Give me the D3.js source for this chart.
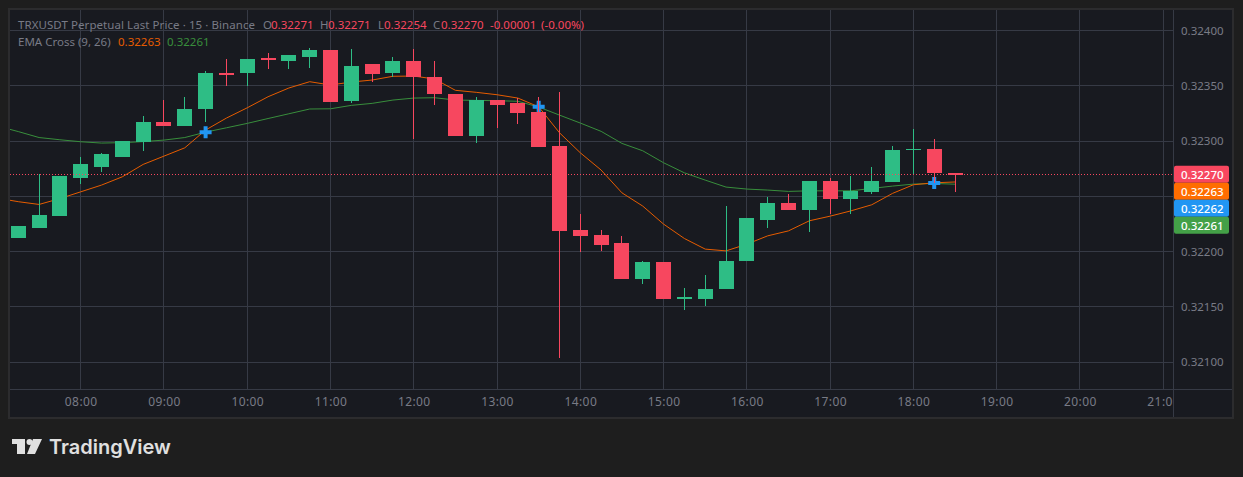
<!DOCTYPE html>
<html>
<head>
<meta charset="utf-8">
<title>TRXUSDT</title>
<script src="https://cdn.jsdelivr.net/npm/d3@7"></script>
<style>
html, body { margin: 0; padding: 0; background: #1e1e1e; overflow: hidden; }
svg { display: block; }
text { font-family: "Noto Sans", sans-serif; }
</style>
</head>
<body>
<svg id="chart" width="1243" height="477"></svg>
<script>
// 15 minute candles, first one is 07:15
const opens = [0.32212,0.32221,0.32232,0.32267,0.32277,0.32286,0.32299,0.32317,0.32314,0.32329,0.32362,0.32362,0.32375,0.32372,0.32376,0.32382,0.32336,0.32370,0.32362,0.32372,0.32358,0.32343,0.32305,0.32337,0.32334,0.32326,0.32296,0.32220,0.32215,0.32208,0.32175,0.32191,0.32157,0.32157,0.32166,0.32192,0.32229,0.32244,0.32238,0.32264,0.32248,0.32254,0.32263,0.32292,0.32293,0.32271];
const highs = [0.32223,0.32270,0.32268,0.32286,0.32289,0.32300,0.32323,0.32337,0.32340,0.32363,0.32374,0.32374,0.32380,0.32378,0.32384,0.32382,0.32383,0.32370,0.32376,0.32383,0.32372,0.32343,0.32340,0.32337,0.32339,0.32340,0.32344,0.32234,0.32220,0.32214,0.32192,0.32191,0.32167,0.32179,0.32241,0.32230,0.32249,0.32252,0.32264,0.32267,0.32268,0.32277,0.32296,0.32311,0.32302,0.32271];
const lows = [0.32212,0.32221,0.32232,0.32261,0.32272,0.32286,0.32291,0.32314,0.32314,0.32317,0.32350,0.32350,0.32365,0.32365,0.32366,0.32335,0.32334,0.32353,0.32358,0.32302,0.32333,0.32305,0.32298,0.32312,0.32315,0.32295,0.32104,0.32200,0.32201,0.32175,0.32171,0.32157,0.32147,0.32151,0.32166,0.32192,0.32221,0.32238,0.32218,0.32234,0.32234,0.32252,0.32263,0.32270,0.32262,0.32254];
const closes = [0.32223,0.32233,0.32268,0.32279,0.32288,0.32300,0.32317,0.32314,0.32329,0.32362,0.32361,0.32374,0.32373,0.32378,0.32382,0.32335,0.32368,0.32361,0.32372,0.32358,0.32343,0.32305,0.32337,0.32333,0.32325,0.32295,0.32219,0.32214,0.32206,0.32175,0.32191,0.32157,0.32159,0.32166,0.32192,0.32230,0.32244,0.32238,0.32264,0.32248,0.32255,0.32264,0.32292,0.32293,0.32271,0.32270];

// EMA lines, first point is 07:00 (off the left edge)
const emaFast = [0.322484,0.322452,0.322427,0.322480,0.322541,0.322602,0.322677,0.322789,0.322864,0.322939,0.323100,0.323208,0.323301,0.323401,0.323480,0.323537,0.323507,0.323534,0.323552,0.323586,0.323588,0.323561,0.323459,0.323441,0.323419,0.323389,0.323310,0.323075,0.322894,0.322738,0.322532,0.322412,0.322249,0.322119,0.322023,0.322007,0.322068,0.322143,0.322188,0.322279,0.322321,0.322369,0.322424,0.322527,0.322605,0.322623,0.322630];
const emaSlow = [0.323136,0.323086,0.323032,0.323012,0.322994,0.322982,0.322986,0.322995,0.323009,0.323032,0.323081,0.323120,0.323160,0.323204,0.323247,0.323290,0.323292,0.323323,0.323341,0.323371,0.323389,0.323392,0.323371,0.323368,0.323365,0.323360,0.323308,0.323235,0.323163,0.323088,0.322979,0.322912,0.322804,0.322713,0.322647,0.322584,0.322566,0.322557,0.322545,0.322550,0.322550,0.322550,0.322572,0.322593,0.322611,0.322617,0.322610];

// blue cross markers
const crossTimes = ["09:30", "13:30", "18:15"];
const crossPrices = [0.32308, 0.32331, 0.32262];

const gridPrices = [0.32400, 0.32350, 0.32300, 0.32250, 0.32200, 0.32150, 0.32100];
// 0.32250 sits under the price labels
const priceTicks = [0.32400, 0.32350, 0.32300, 0.32200, 0.32150, 0.32100];
const hourTicks = [8, 9, 10, 11, 12, 13, 14, 15, 16, 17, 18, 19, 20, 21];

const lastPrice = 0.32270;
const labelPrices = ["0.32270", "0.32263", "0.32262", "0.32261"];
const labelColors = ["#f7475f", "#ff6d00", "#2196f3", "#43a047"];

const RED = "#f7475f";
const GREEN = "#2ebd85";
const GRID = "#363a45";
const TEXT = "#787b86";
const BG = "#181a20";
const FONT_SIZE = 11.5;

const plot = { left: 10, right: 1173, top: 10, bottom: 389 };
const pane = { left: 10, right: 1232, top: 10, bottom: 417 };

function at(h, m) {
    return new Date(Date.UTC(2023, 0, 2, h, m || 0));
}

const x = d3.scaleUtc().domain([at(8), at(21)]).range([80.7, 1163.2]);
const y = d3.scaleLinear().domain([0.3241854, 0.3207580]).range([plot.top, plot.bottom]);

const candles = opens.map((o, i) => ({
    time: d3.utcMinute.offset(at(7, 15), i * 15),
    open: o, high: highs[i], low: lows[i], close: closes[i]
}));
const emaTime = (d, i) => x(d3.utcMinute.offset(at(7), i * 15));

const svg = d3.select("#chart");

// pane + frame
svg.append("rect")
    .attr("x", pane.left - 1).attr("y", pane.top - 1)
    .attr("width", pane.right - pane.left + 2).attr("height", pane.bottom - pane.top + 2)
    .attr("fill", BG).attr("stroke", "#2c2c2e").attr("stroke-width", 2);

const defs = svg.append("defs");
defs.append("clipPath").attr("id", "plotClip").append("rect")
    .attr("x", plot.left).attr("y", plot.top)
    .attr("width", plot.right - plot.left).attr("height", plot.bottom - plot.top);
defs.append("clipPath").attr("id", "axisClip").append("rect")
    .attr("x", plot.left).attr("y", plot.bottom)
    .attr("width", plot.right - plot.left).attr("height", pane.bottom - plot.bottom);

// grid
const grid = svg.append("g").attr("shape-rendering", "crispEdges").attr("stroke", GRID);
grid.selectAll(".h").data(gridPrices).join("line").attr("class", "h")
    .attr("x1", plot.left).attr("x2", plot.right)
    .attr("y1", d => Math.floor(y(d)) + 0.5).attr("y2", d => Math.floor(y(d)) + 0.5);
grid.selectAll(".v").data(hourTicks).join("line").attr("class", "v")
    .attr("x1", d => Math.floor(x(at(d))) + 0.5).attr("x2", d => Math.floor(x(at(d))) + 0.5)
    .attr("y1", plot.top).attr("y2", plot.bottom);

// axis separators
grid.append("line").attr("x1", plot.left).attr("x2", pane.right).attr("y1", plot.bottom + 0.5).attr("y2", plot.bottom + 0.5);
grid.append("line").attr("x1", plot.right + 0.5).attr("x2", plot.right + 0.5).attr("y1", plot.top).attr("y2", pane.bottom);

const main = svg.append("g").attr("clip-path", "url(#plotClip)");

// EMA lines under the candles
const emaLine = d3.line().x(emaTime).y(d => y(d));
main.append("path").datum(emaSlow).attr("d", emaLine)
    .attr("fill", "none").attr("stroke", "#388e3c").attr("stroke-width", 1);
main.append("path").datum(emaFast).attr("d", emaLine)
    .attr("fill", "none").attr("stroke", "#e65c00").attr("stroke-width", 1);

// cross markers
main.selectAll(".cross").data(crossTimes).join("path").attr("class", "cross")
    .attr("d", d3.symbol(d3.symbolCross, 80))
    .attr("fill", "#2196f3")
    .attr("transform", (d, i) => {
        const p = d.split(":");
        return `translate(${x(at(+p[0], +p[1]))},${y(crossPrices[i])})`;
    });

// candles
const candle = main.selectAll(".candle").data(candles).join("g").attr("class", "candle")
    .attr("shape-rendering", "crispEdges");
candle.append("line")
    .attr("x1", d => Math.floor(x(d.time)) + 0.5).attr("x2", d => Math.floor(x(d.time)) + 0.5)
    .attr("y1", d => y(d.high)).attr("y2", d => y(d.low))
    .attr("stroke", d => d.close >= d.open ? GREEN : RED);
candle.append("rect")
    .attr("x", d => Math.round(x(d.time) - 7.5))
    .attr("width", 15)
    .attr("y", d => y(Math.max(d.open, d.close)))
    .attr("height", d => Math.max(d.close < d.open ? 2 : 1, Math.abs(y(d.open) - y(d.close))))
    .attr("fill", d => d.close >= d.open ? GREEN : RED);

// last price line
main.append("line")
    .attr("x1", plot.left).attr("x2", plot.right)
    .attr("y1", Math.floor(y(lastPrice)) + 0.5).attr("y2", Math.floor(y(lastPrice)) + 0.5)
    .attr("stroke", RED).attr("stroke-dasharray", "1 2").attr("shape-rendering", "crispEdges");

// axes
const xAxis = d3.axisBottom(x)
    .tickValues(hourTicks.map(h => at(h)))
    .tickFormat(d3.utcFormat("%H:%M"))
    .tickSize(0).tickPadding(8);
const xg = svg.append("g").attr("clip-path", "url(#axisClip)")
    .append("g").attr("transform", `translate(0,${plot.bottom})`).call(xAxis);

const yAxis = d3.axisRight(y)
    .tickValues(priceTicks)
    .tickFormat(d3.format(".5f"))
    .tickSize(0).tickPadding(0);
const yg = svg.append("g").attr("transform", "translate(1181,0)").call(yAxis);

[xg, yg].forEach(g => {
    g.select(".domain").remove();
    g.selectAll("text").attr("fill", TEXT).attr("font-size", FONT_SIZE).attr("font-family", "Noto Sans, sans-serif");
});
xg.selectAll("text").attr("font-size", 12).attr("letter-spacing", 0.4);

// price labels on the right
const labels = svg.append("g");
labelPrices.forEach((p, i) => {
    const cy = y(lastPrice) + i * 17;
    labels.append("rect")
        .attr("x", 1174).attr("y", cy - 8.5).attr("width", 55).attr("height", 17)
        .attr("rx", 2).attr("fill", labelColors[i]);
    labels.append("text")
        .attr("x", 1181).attr("y", cy + 4.3)
        .attr("fill", "#fff").attr("font-size", FONT_SIZE).attr("font-weight", 500)
        .text(p);
});

// legend rows
const legend = [
    ["TRXUSDT Perpetual Last Price · 15 · Binance", 18, 29, TEXT],
    ["O", 263, 29, TEXT], ["0.32271", 271, 29, RED],
    ["H", 320, 29, TEXT], ["0.32271", 328, 29, RED],
    ["L", 378, 29, TEXT], ["0.32254", 384, 29, RED],
    ["C", 433, 29, TEXT], ["0.32270", 441, 29, RED],
    ["-0.00001", 490, 29, RED], ["(-0.00%)", 541, 29, RED],
    ["EMA Cross (9, 26)", 18, 46, TEXT],
    ["0.32263", 118, 46, "#e65c00"],
    ["0.32261", 167, 46, "#388e3c"]
];
svg.append("g").selectAll("text").data(legend).join("text")
    .attr("x", d => d[1]).attr("y", d => d[2]).attr("fill", d => d[3])
    .attr("font-size", FONT_SIZE)
    .attr("letter-spacing", (d, i) => i === 0 ? 0.07 : 0)
    .text(d => d[0]);

// logo
const logo = svg.append("g").attr("fill", "#e0e0e0");
logo.append("path").attr("d", "M12 439H25V454H17V444H12Z");
logo.append("circle").attr("cx", 29.5).attr("cy", 442).attr("r", 3);
logo.append("path").attr("d", "M33 439H42L35 454H27Z");
svg.append("text")
    .attr("x", 49).attr("y", 454)
    .attr("fill", "#e0e0e0").attr("font-size", 20).attr("font-weight", 600)
    .style("font-family", "Inter, sans-serif")
    .text("TradingView");
</script>
</body>
</html>
